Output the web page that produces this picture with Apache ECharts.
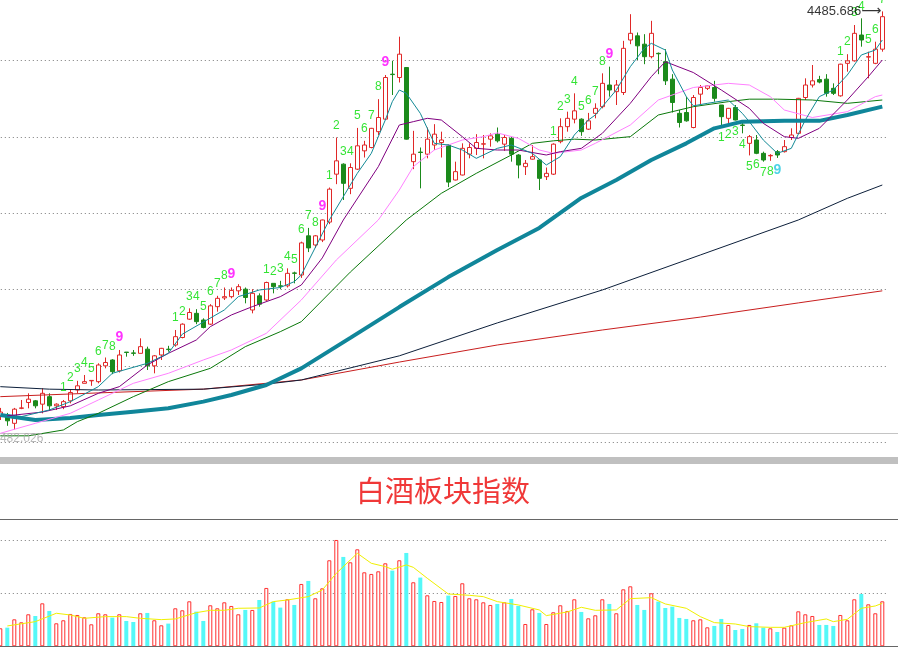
<!DOCTYPE html>
<html>
<head>
<meta charset="utf-8">
<script src="https://cdn.jsdelivr.net/npm/echarts@6/dist/echarts.min.js"></script>
<style>
  html, body { margin: 0; padding: 0; background: #fff; }
  #chart { width: 898px; height: 647px; }
</style>
</head>
<body>
<div id="chart"></div>
<script>
// daily k-line: [open, close, low, high]
const ohlc = [
  [3515,3524,3505,3534],[3517,3503,3491,3522],[3497,3531,3482.026,3534],[3533,3534,3531,3553],[3547,3555,3533,3569],
  [3551,3539,3533,3553],[3543,3569,3521,3581],[3561,3539,3529,3569],[3539,3543,3529,3545],[3537,3549,3531,3553],
  [3551,3571,3545,3577],[3577,3587,3569,3599],[3593,3597,3593,3613],[3599,3600,3587,3600],[3597,3637,3593,3641],
  [3635,3643,3629,3655],[3649,3621,3615,3651],[3623,3661,3619,3673],[3668,3667,3657,3668],[3666,3665,3659,3673],
  [3665,3681,3665,3701],[3675,3635,3625,3681],[3635,3659,3617,3661],[3661,3677,3649,3678],[3675,3674,3669,3683],
  [3685,3705,3681,3721],[3703,3735,3701,3737],[3747,3763,3745,3773],[3761,3741,3735,3771],[3745,3727,3725,3749],
  [3735,3779,3733,3783],[3777,3797,3765,3803],[3798,3801,3793,3823],[3801,3816,3797,3823],[3815,3825,3805,3831],
  [3819,3799,3785,3823],[3769,3809,3761,3819],[3803,3783,3777,3809],[3793,3835,3791,3837],[3833,3825,3809,3833],
  [3827,3826,3819,3839],[3827,3857,3823,3869],[3858,3857,3833,3861],[3853,3930,3846,3933],[3947,3918,3908,3966],
  [3925,3947,3918,3949],[3937,3985,3932,3986],[3980,4059,3975,4063],[4095,4127,4071,4183],[4119,4073,4033,4121],
  [4061,4111,4047,4121],[4107,4163,4105,4206],[4151,4165,4135,4175],[4159,4205,4157,4206],[4197,4231,4189,4275],
  [4227,4327,4225,4333],[4335,4334,4285,4367],[4327,4383,4315,4425],[4351,4179,4178,4352],[4125,4143,4107,4199],
  [4148,4147,4061,4159],[4143,4179,4133,4207],[4165,4191,4153,4215],[4171,4177,4135,4197],[4165,4076,4064,4167],
  [4081,4101,4080,4125],[4093,4157,4092,4169],[4143,4159,4133,4169],[4157,4171,4141,4191],[4167,4168,4133,4189],
  [4179,4187,4161,4193],[4191,4175,4171,4207],[4167,4183,4151,4189],[4181,4143,4125,4185],[4141,4117,4085,4143],
  [4113,4121,4093,4129],[4131,4137,4130,4165],[4129,4085,4057,4131],[4089,4097,4081,4111],[4095,4167,4093,4169],
  [4173,4209,4169,4229],[4209,4229,4197,4245],[4227,4247,4217,4289],[4227,4197,4187,4229],[4203,4223,4201,4242],
  [4241,4253,4229,4265],[4257,4313,4253,4337],[4309,4297,4281,4353],[4293,4309,4261,4321],[4291,4397,4285,4415],
  [4417,4433,4407,4479],[4427,4403,4369,4435],[4407,4377,4359,4431],[4377,4433,4373,4463],[4385,4384,4335,4387],
  [4365,4319,4309,4395],[4323,4267,4243,4335],[4241,4219,4207,4249],[4243,4223,4221,4281],[4207,4279,4205,4285],
  [4287,4303,4263,4309],[4301,4307,4297,4309],[4303,4277,4269,4319],[4261,4233,4209,4261],[4229,4253,4215,4254],
  [4255,4225,4224,4261],[4213,4212,4193,4223],[4169,4185,4140,4189],[4177,4145,4143,4189],[4145,4129,4125,4149],
  [4139,4140,4127,4143],[4149,4141,4134,4153],[4149,4161,4147,4177],[4183,4189,4177,4205],[4193,4277,4191,4278],
  [4279,4309,4273,4325],[4309,4319,4303,4357],[4322,4316,4313,4331],[4323,4289,4281,4335],[4301,4289,4285,4313],
  [4283,4359,4281,4360],[4361,4367,4341,4383],[4367,4433,4365,4453],[4429,4417,4401,4469],[4376,4377,4325,4389],
  [4361,4395,4359,4413],[4395,4473,4389,4485.686]
];

const volume = [
  34, 35.2, 50.9, 45.3, 60.4, 57.2, 81.1, 66.7, 43.4, 49.1,
  61, 59.1, 54.7, 41.5, 62.3, 60.4, 54.1, 60.4, 47.8, 45.9,
  62.3, 62.9, 49.1, 39.6, 42.8, 71.7, 67.9, 84.9, 65.4, 47.8,
  77.4, 71.7, 83, 76.1, 60.4, 68.6, 68.6, 87.4, 110.1, 84.3,
  73, 88.7, 78, 117.6, 123.3, 90.6, 109.4, 162.3, 200.6, 168.6,
  158.5, 183, 139.6, 136.5, 141.5, 156.6, 142.8, 162.3, 176.1, 120.8,
  129.6, 96.2, 85.5, 83.6, 95.6, 95, 118.9, 90.6, 88.7, 83,
  78, 79.9, 83, 89.3, 76.1, 42.1, 69.8, 62.9, 42.1, 64.2,
  77.4, 66.7, 88.7, 64.8, 52.8, 58.5, 88.7, 79.9, 62.3, 107.5,
  113.2, 78, 68.6, 100, 84.3, 72.3, 74.8, 53.5, 51.6, 49.1,
  50.9, 35.8, 38.4, 51.6, 40.3, 30.8, 32.7, 40.3, 43.4, 35.2,
  34, 27, 35.2, 39.6, 66, 60.4, 57.2, 40.3, 40.3, 38.4,
  59.1, 49.1, 88.7, 98.7, 79.2, 62.3, 84.9
];

// moving averages: [day index, value]
const ma5 = [[3,3513],[7,3529],[10,3549],[14,3585],[16,3617],[21,3641],[24,3665],[26,3711],[29,3740],[32,3769],
  [34,3801],[37,3817],[40,3823],[42,3837],[43,3853],[47,3985],[51,4097],[53,4145],[55,4225],[56,4269],[57,4297],
  [58,4289],[60,4241],[62,4169],[64,4165],[66,4153],[68,4133],[71,4157],[73,4165],[76,4145],[78,4117],[80,4137],
  [82,4189],[84,4225],[85,4237],[88,4297],[90,4353],[92,4397],[93,4409],[95,4393],[96,4345],[98,4281],[99,4259],
  [101,4265],[104,4273],[106,4241],[107,4221],[109,4177],[111,4145],[113,4157],[115,4225],[117,4281],[119,4297],
  [121,4333],[123,4381],[125,4393],[126,4417]];
const ma10 = [[1,3515],[6,3524],[10,3539],[14,3569],[17,3585],[21,3637],[24,3665],[28,3697],[30,3729],[33,3757],
  [36,3777],[40,3801],[43,3829],[46,3894],[49,3985],[54,4113],[57,4213],[59,4221],[61,4229],[63,4225],[66,4185],
  [68,4157],[71,4153],[74,4153],[78,4141],[80,4149],[83,4157],[86,4193],[90,4265],[93,4329],[95,4365],[99,4339],
  [103,4297],[107,4253],[109,4217],[112,4185],[114,4181],[117,4205],[121,4273],[124,4329],[126,4369]];
const ma20 = [[0,3473],[5,3497],[10,3521],[14,3553],[19,3593],[24,3617],[29,3649],[33,3673],[38,3713],[43,3793],
  [48,3889],[54,3985],[57,4057],[59,4113],[62,4153],[66,4177],[69,4185],[71,4194],[74,4181],[77,4153],[79,4145],
  [83,4153],[85,4169],[90,4213],[94,4273],[99,4303],[104,4313],[107,4309],[110,4281],[112,4249],[116,4231],
  [121,4245],[125,4281],[126,4285]];
const ma60 = [[0,3467],[4,3467],[9,3481],[11,3501],[14,3521],[19,3561],[24,3597],[30,3629],[35,3681],[40,3717],
  [43,3741],[50,3860],[58,3985],[63,4049],[68,4097],[73,4141],[76,4169],[79,4175],[82,4179],[85,4177],[90,4185],
  [94,4237],[99,4257],[104,4269],[107,4275],[111,4275],[116,4273],[121,4265],[126,4273]];
const ma120 = [[0,3517],[5,3505],[10,3510],[14,3517],[19,3525],[24,3533],[29,3549],[33,3565],[38,3589],[43,3629],
  [50,3702],[57,3776],[64,3848],[71,3913],[77,3966],[83,4038],[88,4081],[93,4129],[98,4169],[102,4205],[106,4221],
  [112,4223],[117,4223],[121,4237],[126,4257]];
const ma250 = [[0,3585],[7,3579],[14,3577],[29,3579],[38,3591],[43,3601],[57,3659],[71,3738],[86,3817],[100,3901],
  [114,3985],[121,4037],[126,4069]];
const ma400 = [[0,3561],[14,3570],[29,3579],[43,3601],[57,3644],[71,3685],[86,3721],[100,3752],[114,3786],[126,3815]];
const volMa = [[1,38.4],[5,46.5],[8,62.3],[10,59.1],[12,52.8],[15,56],[18,56],[20,52.8],[23,50.3],[25,51.6],
  [28,63.5],[30,67.9],[32,67.9],[34,71.7],[37,72.3],[39,84.3],[41,87.4],[44,93.7],[46,106.3],[48,137.7],[50,162.9],
  [51,175.5],[53,156.6],[55,150.3],[56,145.3],[58,153.5],[59,149],[61,128.3],[64,98.7],[67,96.2],[69,93.7],
  [71,84.3],[74,78],[77,68.6],[78,57.9],[81,64.8],[83,73.6],[85,67.9],[88,68.6],[90,89.9],[93,91.8],[95,79.9],
  [98,71.7],[100,56],[102,44.7],[105,42.1],[107,37.1],[110,35.8],[112,35.8],[115,44.7],[118,51.6],[119,46.5],
  [121,50.9],[123,71.7],[125,76.1],[126,81.1]];

// TD sequential counts: [day index, count]
const tdUp = [[9,1],[10,2],[11,3],[12,4],[13,5],[14,6],[15,7],[16,8],[17,9],
  [25,1],[26,2],[27,3],[28,4],[29,5],[30,6],[31,7],[32,8],[33,9],
  [38,1],[39,2],[40,3],[41,4],[42,5],[43,6],[44,7],[45,8],[46,9],
  [47,1],[48,2],[49,3],[50,4],[51,5],[52,6],[53,7],[54,8],[55,9],
  [79,1],[80,2],[81,3],[82,4],[83,5],[84,6],[85,7],[86,8],[87,9],
  [120,1],[121,2],[122,3],[123,4],[124,5],[125,6],[126,7]];
const tdDown = [[103,1],[104,2],[105,3],[106,4],[107,5],[108,6],[109,7],[110,8],[111,9]];

const title = '白酒板块指数';

const days = ohlc.map((_, i) => i);
const UP = '#e02828', DOWN = '#1b8a1b';

let maxIdx = 0, minIdx = 0;
ohlc.forEach((d, i) => {
  if (d[3] > ohlc[maxIdx][3]) maxIdx = i;
  if (d[2] < ohlc[minIdx][2]) minIdx = i;
});

function tdLabel(n, pos, nineColor) {
  return {
    formatter: String(n), position: pos, distance: pos === 'top' ? 6 : 5,
    color: n === 9 ? nineColor : '#00dd00',
    fontSize: n === 9 ? 14 : 12, fontWeight: n === 9 ? 'bold' : 'normal'
  };
}
const tdData = [];
tdUp.forEach(([i, n]) => tdData.push({ value: [i, ohlc[i][3]], label: tdLabel(n, 'top', '#ff00ff') }));
tdDown.forEach(([i, n]) => tdData.push({ value: [i, ohlc[i][2]], label: tdLabel(n, 'bottom', '#22c8e0') }));

const volData = volume.map((v, i) => {
  const up = ohlc[i][1] >= ohlc[i][0];
  return {
    value: v,
    itemStyle: up ? { color: '#ffffff', borderColor: '#ff3030', borderWidth: 1 }
                  : { color: '#55f8f8', borderWidth: 0 }
  };
});

function maLine(data, color, width, z) {
  return {
    type: 'line', xAxisIndex: 0, yAxisIndex: 0, data: data, symbol: 'none',
    lineStyle: { color: color, width: width }, z: z, silent: true
  };
}

const chart = echarts.init(document.getElementById('chart'));
chart.setOption({
  animation: false,
  backgroundColor: '#ffffff',
  title: {
    text: title, left: 356, top: 476, padding: 0,
    textStyle: { color: '#f03838', fontSize: 29, fontWeight: 'normal', fontFamily: 'Noto Sans CJK SC' }
  },
  grid: [
    { left: -3.2, width: 889, top: -16.2, height: 458.9, outerBoundsMode: 'none' },
    { left: -3.2, width: 889, top: 519.3, height: 127, outerBoundsMode: 'none' }
  ],
  xAxis: [
    { type: 'category', gridIndex: 0, data: days, boundaryGap: true, show: false },
    { type: 'category', gridIndex: 1, data: days, boundaryGap: true, show: false }
  ],
  yAxis: [
    { type: 'value', gridIndex: 0, min: 3450.5, max: 4551.9, show: false },
    { type: 'value', gridIndex: 0, min: 0, max: 6, interval: 1,
      axisLine: { show: false }, axisTick: { show: false }, axisLabel: { show: false },
      splitLine: { show: true, lineStyle: { color: '#7a7a7a', type: [1, 3], width: 1 } } },
    { type: 'value', gridIndex: 1, min: 0, max: 239.6, interval: 100,
      axisLine: { show: false }, axisTick: { show: false }, axisLabel: { show: false },
      splitLine: { show: true, lineStyle: { color: '#7a7a7a', type: [1, 3], width: 1 } } }
  ],
  graphic: [
    { type: 'line', shape: { x1: 0, y1: 433.5, x2: 898, y2: 433.5 }, style: { stroke: '#c4c4c4', lineWidth: 1 }, z: 1 },
    { type: 'rect', shape: { x: 0, y: 457, width: 898, height: 7 }, style: { fill: '#c0c0c0' }, z: 1 },
    { type: 'line', shape: { x1: 0, y1: 519.5, x2: 898, y2: 519.5 }, style: { stroke: '#666666', lineWidth: 1 }, z: 100 },
    { type: 'line', shape: { x1: 0, y1: 646.5, x2: 898, y2: 646.5 }, style: { stroke: '#666666', lineWidth: 1 }, z: 100 }
  ],
  series: [
    {
      type: 'candlestick', xAxisIndex: 0, yAxisIndex: 0, data: ohlc, barWidth: 5, z: 2,
      itemStyle: { color: '#ffffff', color0: DOWN, borderColor: UP, borderColor0: DOWN, borderWidth: 1 }
    },
    maLine(ma400, '#c81e1e', 1, 3),
    maLine(ma250, '#0c1f3a', 1, 3),
    maLine(ma120, '#10869a', 4, 3),
    maLine(ma60, '#0a780a', 1, 4),
    maLine(ma20, '#ff80ff', 1, 4),
    maLine(ma10, '#800080', 1, 4),
    maLine(ma5, '#138a96', 1, 5),
    {
      type: 'scatter', xAxisIndex: 0, yAxisIndex: 0, symbolSize: 0, data: tdData, z: 6, silent: true,
      label: { show: true, fontFamily: 'Liberation Sans' }
    },
    {
      type: 'scatter', xAxisIndex: 0, yAxisIndex: 0, symbolSize: 0, z: 7, silent: true,
      data: [[maxIdx, ohlc[maxIdx][3]]],
      label: { show: true, position: 'left', distance: 1,
               formatter: p => '{n|' + p.value[1].toFixed(3) + '}{a|⟶}',
               rich: {
                 n: { color: '#000000', fontSize: 13, fontFamily: 'Liberation Sans' },
                 a: { color: '#000000', fontSize: 14, fontFamily: 'DejaVu Sans' }
               } }
    },
    {
      type: 'scatter', xAxisIndex: 0, yAxisIndex: 0, symbolSize: 0, z: 7, silent: true,
      data: [[minIdx, ohlc[minIdx][2]]],
      label: { show: true, position: 'bottom', distance: 3, offset: [4, 0], formatter: p => p.value[1].toFixed(3),
               color: '#a8a8a8', fontSize: 12, fontFamily: 'Liberation Sans' }
    },
    {
      type: 'bar', xAxisIndex: 1, yAxisIndex: 2, data: volData, barWidth: 4, z: 2
    },
    {
      type: 'line', xAxisIndex: 1, yAxisIndex: 2, data: volMa, symbol: 'none', z: 3,
      lineStyle: { color: '#f0f000', width: 1 }
    }
  ]
});
</script>
</body>
</html>
